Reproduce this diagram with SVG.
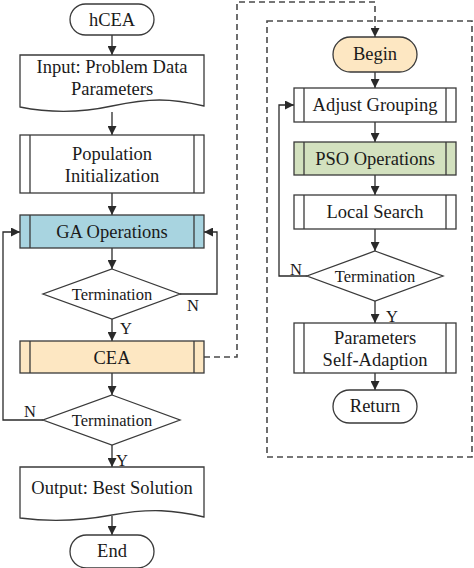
<svg xmlns="http://www.w3.org/2000/svg" width="474" height="568" viewBox="0 0 474 568">
<defs>
<marker id="ah" viewBox="0 0 10 10" refX="10" refY="5" markerWidth="9" markerHeight="9" markerUnits="userSpaceOnUse" orient="auto">
<path d="M0,0 L10,5 L0,10 z" fill="#2a2a2a"/>
</marker>
</defs>
<style>
.s{stroke:#3a3a3a;stroke-width:1.3;fill:#fff}
.l{stroke:#3a3a3a;stroke-width:1.3;fill:none}
.c{stroke:#2a2a2a;stroke-width:1.3;fill:none}
.d{stroke:#4a4a4a;stroke-width:1.6;fill:none;stroke-dasharray:6,4}
text{font-family:'Liberation Serif','DejaVu Serif',serif;fill:#1a1a1a}
.t{font-size:18.5px;text-anchor:middle}
.tm{font-size:16.5px;text-anchor:middle}
.lb{font-size:16.5px}
.blue{fill:#a8d4e0}
.org{fill:#fde7c2}
.grn{fill:#d3e1bf}
</style>

<g id="connectors">
<line class="c" x1="112" y1="35" x2="112" y2="55" marker-end="url(#ah)"/>
<line class="c" x1="112" y1="112" x2="112" y2="135" marker-end="url(#ah)"/>
<line class="c" x1="112" y1="193" x2="112" y2="215" marker-end="url(#ah)"/>
<line class="c" x1="112" y1="248" x2="112" y2="269" marker-end="url(#ah)"/>
<polyline class="c" points="180,294 217,294 217,232 204,232" marker-end="url(#ah)"/>
<line class="c" x1="112" y1="319" x2="112" y2="341" marker-end="url(#ah)"/>
<line class="c" x1="112" y1="373" x2="112" y2="395" marker-end="url(#ah)"/>
<polyline class="c" points="43,420 3,420 3,232 20,232" marker-end="url(#ah)"/>
<line class="c" x1="112" y1="445" x2="112" y2="467" marker-end="url(#ah)"/>
<line class="c" x1="112" y1="516" x2="112" y2="535" marker-end="url(#ah)"/>
<polyline class="d" points="204,357 237,357 237,2 375,2 375,37" marker-end="url(#ah)"/>
<line class="c" x1="375" y1="72" x2="375" y2="88" marker-end="url(#ah)"/>
<line class="c" x1="375" y1="122" x2="375" y2="142" marker-end="url(#ah)"/>
<line class="c" x1="375" y1="175" x2="375" y2="195" marker-end="url(#ah)"/>
<line class="c" x1="375" y1="229" x2="375" y2="251" marker-end="url(#ah)"/>
<polyline class="c" points="307,276 279,276 279,105 294,105" marker-end="url(#ah)"/>
<line class="c" x1="375" y1="301" x2="375" y2="323" marker-end="url(#ah)"/>
<line class="c" x1="375" y1="373" x2="375" y2="390" marker-end="url(#ah)"/>
</g>

<g id="labels">
<text class="lb" x="187" y="311">N</text>
<text class="lb" x="120" y="334">Y</text>
<text class="lb" x="24" y="417">N</text>
<text class="lb" x="116" y="466">Y</text>
<text class="lb" x="290" y="275">N</text>
<text class="lb" x="386" y="322">Y</text>
</g>

<g id="subprocess-frame">
<rect class="d" x="267" y="21" width="205" height="436"/>
</g>

<g id="hCEA">
<rect class="s" x="70" y="4" width="84" height="31" rx="15.5"/>
<text class="t" x="112" y="26">hCEA</text>
</g>

<g id="input">
<path class="s" d="M20,55 H204 V106 C170,98 150,98 112,106 C80,113 50,113 20,107 Z"/>
<text class="t" x="112" y="73">Input: Problem Data</text>
<text class="t" x="112" y="95">Parameters</text>
</g>

<g id="popinit">
<rect class="s" x="20" y="135" width="184" height="58"/>
<line class="l" x1="30" y1="135" x2="30" y2="193"/>
<line class="l" x1="194" y1="135" x2="194" y2="193"/>
<text class="t" x="112" y="160">Population</text>
<text class="t" x="112" y="182">Initialization</text>
</g>

<g id="ga">
<rect class="s blue" x="20" y="215" width="184" height="33"/>
<line class="l" x1="30" y1="215" x2="30" y2="248"/>
<line class="l" x1="194" y1="215" x2="194" y2="248"/>
<text class="t" x="112" y="238">GA Operations</text>
</g>

<g id="term1">
<polygon class="s" points="112,269 180,294 112,319 43,294"/>
<text class="tm" x="112" y="300">Termination</text>
</g>

<g id="cea">
<rect class="s org" x="20" y="341" width="184" height="32"/>
<line class="l" x1="30" y1="341" x2="30" y2="373"/>
<line class="l" x1="194" y1="341" x2="194" y2="373"/>
<text class="t" x="112" y="364">CEA</text>
</g>

<g id="term2">
<polygon class="s" points="112,395 180,420 112,445 43,420"/>
<text class="tm" x="112" y="426">Termination</text>
</g>

<g id="output">
<path class="s" d="M20,467 H204 V517 C175,510 150,508 112,515 C80,521 50,522 20,518 Z"/>
<text class="t" x="112" y="494">Output: Best Solution</text>
</g>

<g id="end">
<rect class="s" x="70" y="535" width="84" height="33" rx="16.5"/>
<text class="t" x="112" y="557">End</text>
</g>

<g id="begin">
<rect class="s org" x="333" y="37" width="84" height="35" rx="17.5"/>
<text class="t" x="375" y="60">Begin</text>
</g>

<g id="adjust">
<rect class="s" x="294" y="88" width="162" height="34"/>
<line class="l" x1="304" y1="88" x2="304" y2="122"/>
<line class="l" x1="446" y1="88" x2="446" y2="122"/>
<text class="t" x="375" y="111">Adjust Grouping</text>
</g>

<g id="pso">
<rect class="s grn" x="294" y="142" width="162" height="33"/>
<line class="l" x1="304" y1="142" x2="304" y2="175"/>
<line class="l" x1="446" y1="142" x2="446" y2="175"/>
<text class="t" x="375" y="165">PSO Operations</text>
</g>

<g id="localsearch">
<rect class="s" x="294" y="195" width="162" height="34"/>
<line class="l" x1="304" y1="195" x2="304" y2="229"/>
<line class="l" x1="446" y1="195" x2="446" y2="229"/>
<text class="t" x="375" y="218">Local Search</text>
</g>

<g id="term3">
<polygon class="s" points="375,251 443,276 375,301 307,276"/>
<text class="tm" x="375" y="282">Termination</text>
</g>

<g id="selfadapt">
<rect class="s" x="294" y="323" width="162" height="50"/>
<line class="l" x1="304" y1="323" x2="304" y2="373"/>
<line class="l" x1="446" y1="323" x2="446" y2="373"/>
<text class="t" x="375" y="344">Parameters</text>
<text class="t" x="375" y="366">Self-Adaption</text>
</g>

<g id="return">
<rect class="s" x="333" y="390" width="84" height="33" rx="16.5"/>
<text class="t" x="375" y="412">Return</text>
</g>
</svg>
